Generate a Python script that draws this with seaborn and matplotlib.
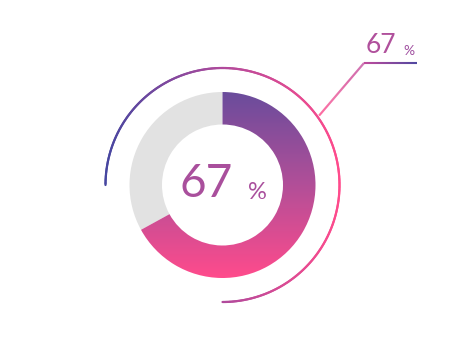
import numpy as np
import matplotlib
matplotlib.use("Agg")
import matplotlib.pyplot as plt
import seaborn as sns
from matplotlib.patches import Wedge
from matplotlib.collections import LineCollection
from matplotlib.colors import LinearSegmentedColormap

# ---- data ----
percent = 67
values = [percent, 100 - percent]
labels = ["filled", "rest"]
center_label = "67"
pct_sign = "%"

sns.set_theme(style="white")
plt.rcParams['font.family'] = ['Lato', 'DejaVu Sans']

W, H = 450, 359
fig = plt.figure(figsize=(W / 100, H / 100), dpi=100)
ax = fig.add_axes([0, 0, 1, 1])
ax.set_xlim(0, W)
ax.set_ylim(0, H)
ax.set_aspect('equal')
ax.axis('off')

cx, cy = 222.5, 174.0
r_out, ring_w = 93.0, 32.5
R_arc = 117.0

ring_cmap = LinearSegmentedColormap.from_list("ring", ["#6a4c9c", "#b24f98", "#ff4b8c"])
arc_cmap = LinearSegmentedColormap.from_list("arc", ["#4646a0", "#b04a9c", "#ff4b8c"])

# grey remainder
span_fill = values[0] / 100 * 360
grey = Wedge((cx, cy), r_out, 90, 90 + values[1] / 100 * 360, width=ring_w,
             facecolor="#e2e2e2", edgecolor="none")
ax.add_patch(grey)

# gradient filled part
fill = Wedge((cx, cy), r_out, 90 - span_fill, 90, width=ring_w,
             facecolor="none", edgecolor="none")
ax.add_patch(fill)
grad = np.linspace(0, 1, 256).reshape(-1, 1)
im = ax.imshow(grad, cmap=ring_cmap, aspect='auto', origin='upper',
               extent=(cx - r_out, cx + r_out, cy - r_out, cy + r_out), zorder=2)
im.set_clip_path(fill)

# outer arc with horizontal gradient
th = np.radians(np.linspace(180, -90, 400))
xs = cx + R_arc * np.cos(th)
ys = cy + R_arc * np.sin(th)
pts = np.column_stack([xs, ys]).reshape(-1, 1, 2)
segs = np.concatenate([pts[:-1], pts[1:]], axis=1)
xmid = (xs[:-1] + xs[1:]) / 2
lc = LineCollection(segs, cmap=arc_cmap, linewidths=1.6, capstyle='round')
lc.set_array((xmid - (cx - R_arc)) / (2 * R_arc))
lc.set_clim(0, 1)
ax.add_collection(lc)

# leader line
ang = np.radians(35.7)
p0 = (cx + 119 * np.cos(ang), cy + 119 * np.sin(ang))
p1 = (364.0, 296.0)
p2 = (417.0, 296.0)
n = 100
lx = np.concatenate([np.linspace(p0[0], p1[0], n), np.linspace(p1[0], p2[0], n)[1:]])
ly = np.concatenate([np.linspace(p0[1], p1[1], n), np.linspace(p1[1], p2[1], n)[1:]])
lpts = np.column_stack([lx, ly]).reshape(-1, 1, 2)
lsegs = np.concatenate([lpts[:-1], lpts[1:]], axis=1)
lead_cmap = LinearSegmentedColormap.from_list("lead", ["#ff4b8c", "#c04a9c", "#5048a0"])
lc2 = LineCollection(lsegs, cmap=lead_cmap, linewidths=1.5)
lc2.set_array(np.linspace(0, 1, len(lsegs)))
lc2.set_clim(0, 1)
ax.add_collection(lc2)

# texts
tcol = "#a94f9c"
ax.text(233, 162, center_label, fontsize=33, color=tcol, ha='right', va='baseline',
        fontweight='normal')
ax.text(248, 160, pct_sign, fontsize=17, color=tcol, ha='left', va='baseline',
        fontweight='normal')
ax.text(396, 306, center_label, fontsize=19, color="#b0509c", ha='right', va='baseline',
        fontweight='normal')
ax.text(403, 304, pct_sign, fontsize=10, color="#a04fa0", ha='left', va='baseline',
        fontweight='normal')

fig.savefig("out.png", dpi=100, facecolor="white")
